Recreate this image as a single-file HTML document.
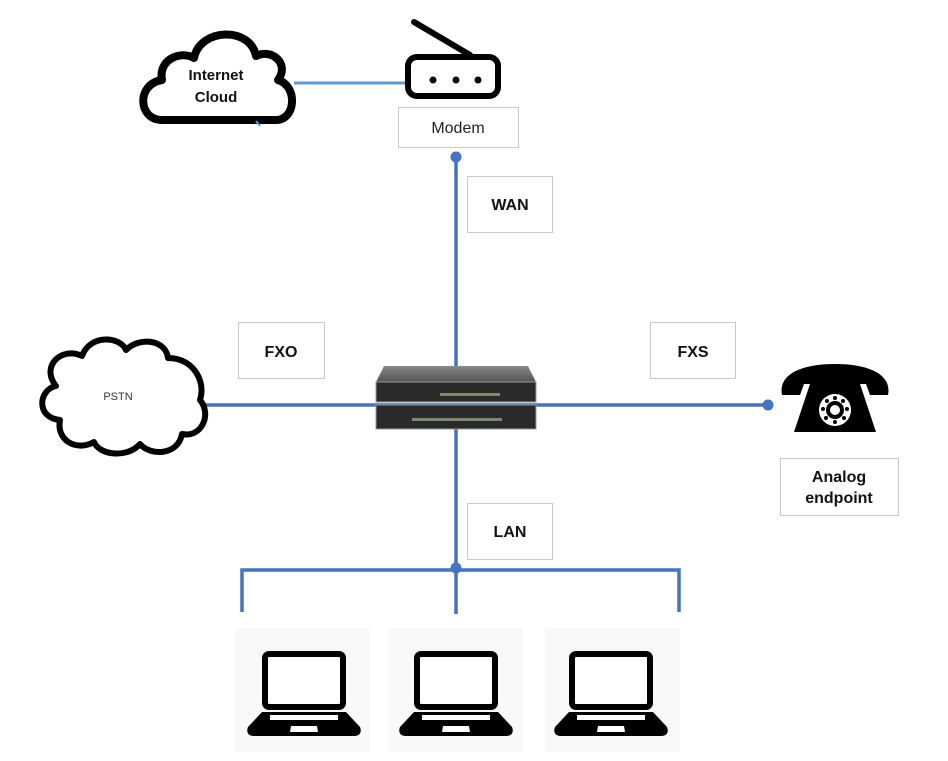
<!DOCTYPE html>
<html><head><meta charset="utf-8"><style>
html,body{margin:0;padding:0;background:#fff;}
svg{display:block;}
text{font-family:"Liberation Sans",sans-serif;}
</style></head><body>
<svg width="948" height="761" viewBox="0 0 948 761" xmlns="http://www.w3.org/2000/svg">
<defs>
<linearGradient id="rg" x1="0" y1="0" x2="0" y2="1"><stop offset="0" stop-color="#888"/><stop offset="1" stop-color="#555"/></linearGradient>
</defs>
<rect width="948" height="761" fill="#fff"/>
<!-- Internet cloud -->
<path d="M162,120 C138,120 136,84 162,80 C158,60 180,50 194,58 C200,28 250,26 256,56 C272,48 290,64 278,80 C298,86 296,120 276,120 Z" fill="#fff" stroke="#000" stroke-width="8" stroke-linejoin="round"/>
<text x="216" y="80" font-size="15" font-weight="bold" text-anchor="middle" fill="#111">Internet</text>
<text x="216" y="102" font-size="15" font-weight="bold" text-anchor="middle" fill="#111">Cloud</text>
<line x1="294" y1="83" x2="410" y2="83" stroke="#5b9bd5" stroke-width="3"/>
<line x1="256" y1="121" x2="260" y2="126" stroke="#5b9bd5" stroke-width="2"/>
<!-- Modem -->
<line x1="414" y1="22" x2="470" y2="55" stroke="#000" stroke-width="6" stroke-linecap="round"/>
<rect x="408" y="57" width="90" height="39" rx="9" fill="#fff" stroke="#000" stroke-width="6"/>
<circle cx="433" cy="80" r="3.5" fill="#000"/><circle cx="456" cy="80" r="3.5" fill="#000"/><circle cx="478" cy="80" r="3.5" fill="#000"/>
<rect x="398.5" y="107.5" width="120" height="40" fill="#fff" stroke="#c8c8c8"/>
<text x="458" y="133" font-size="16" text-anchor="middle" fill="#222">Modem</text>
<!-- lines -->
<g stroke="#4472c4" stroke-width="3.5" fill="none">
<line x1="456" y1="157" x2="456" y2="366"/>
<line x1="200" y1="405" x2="768" y2="405"/>
<line x1="456" y1="428" x2="456" y2="614"/>
<polyline points="242,612 242,570 679,570 679,612"/>
</g>
<circle cx="456" cy="157" r="5.5" fill="#4472c4"/>
<circle cx="200" cy="405" r="5.5" fill="#4472c4"/>
<circle cx="768" cy="405" r="5.5" fill="#4472c4"/>
<circle cx="456" cy="568" r="5.5" fill="#4472c4"/>
<!-- label boxes -->
<g fill="#fff" stroke="#c8c8c8">
<rect x="467.5" y="176.5" width="85" height="56"/>
<rect x="238.5" y="322.5" width="86" height="56"/>
<rect x="650.5" y="322.5" width="85" height="56"/>
<rect x="467.5" y="503.5" width="85" height="56"/>
<rect x="780.5" y="458.5" width="118" height="57"/>
</g>
<g font-size="16" font-weight="bold" text-anchor="middle" fill="#111">
<text x="510" y="210">WAN</text>
<text x="281" y="357">FXO</text>
<text x="693" y="357">FXS</text>
<text x="510" y="537">LAN</text>
<text x="839" y="482">Analog</text>
<text x="839" y="503">endpoint</text>
</g>
<!-- PSTN cloud -->
<path d="M60,420 C36,418 38,390 56,386 C40,366 62,346 82,356 C90,334 120,336 126,350 C140,336 166,340 168,358 C194,358 206,382 200,400 C212,414 202,438 182,434 C178,456 150,456 140,444 C128,458 100,456 94,442 C76,452 56,440 60,420 Z" fill="#fff" stroke="#000" stroke-width="6" stroke-linejoin="round"/>
<text x="118" y="400" font-size="11" text-anchor="middle" fill="#333" font-family="Liberation Serif,serif">PSTN</text>
<!-- router -->
<polygon points="384,366 528,366 536,382 376,382" fill="url(#rg)"/>
<rect x="376" y="382" width="160" height="20" fill="#2a2a2a" stroke="#999"/>
<rect x="376" y="405" width="160" height="24" fill="#2a2a2a" stroke="#999"/>
<g fill="#7a8a6a"><rect x="440" y="393" width="60" height="3"/><rect x="412" y="418" width="90" height="3"/></g>
<!-- phone -->
<path d="M782,395 C778,375 800,364 835,364 C870,364 892,375 888,395 L870,395 L866,384 L804,384 L800,395 Z" fill="#000"/>
<path d="M810,384 L860,384 L876,432 L794,432 Z" fill="#000"/>
<circle cx="835" cy="410" r="16" fill="#fff"/>
<circle cx="835" cy="410" r="9" fill="#000"/>
<circle cx="835" cy="410" r="5" fill="#fff"/>
<g fill="#000">
<circle cx="835" cy="398" r="2"/><circle cx="843" cy="401" r="2"/><circle cx="847" cy="409" r="2"/><circle cx="844" cy="418" r="2"/><circle cx="835" cy="422" r="2"/><circle cx="826" cy="418" r="2"/><circle cx="823" cy="409" r="2"/><circle cx="827" cy="401" r="2"/>
</g>
<!-- laptops -->
<g>
<rect x="235" y="628" width="135" height="124" fill="#f9f9f9"/>
<rect x="388" y="628" width="135" height="124" fill="#f9f9f9"/>
<rect x="545" y="628" width="135" height="124" fill="#f9f9f9"/>
</g>
<g id="lp">
<rect x="265" y="654" width="78" height="53" rx="4" fill="#fff" stroke="#000" stroke-width="6"/>
<path d="M262,712 L346,712 L360,727 C362,732 360,736 354,736 L254,736 C248,736 246,732 248,727 Z" fill="#000"/>
<rect x="270" y="715" width="68" height="5" fill="#fff"/>
<polygon points="291,726 317,726 318,732 290,732" fill="#fff"/>
</g>
<use href="#lp" x="152"/>
<use href="#lp" x="307"/>
</svg>
</body></html>
